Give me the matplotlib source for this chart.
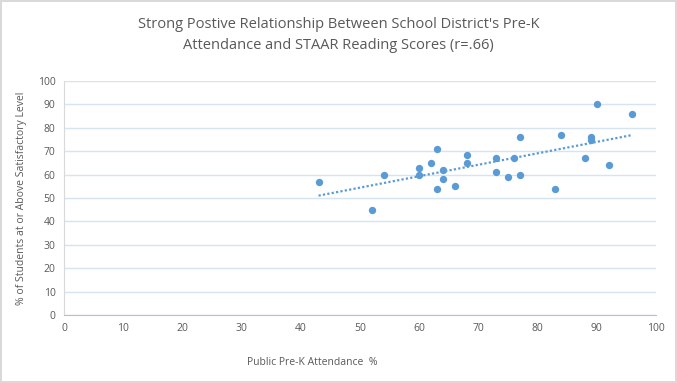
import numpy as np
import matplotlib.pyplot as plt

attendance = [43, 52, 54, 60, 60, 62, 63, 63, 64, 64, 66, 68, 68, 73, 73, 75,
              76, 77, 77, 83, 84, 88, 89, 89, 90, 92, 96]
reading = [57, 45, 60, 63, 60, 65, 71, 54, 62, 58, 55, 68.5, 65, 67, 61, 59,
           67, 76, 60, 54, 77, 67, 76, 75, 90, 64, 86]

plt.rcParams['font.family'] = ['Open Sans', 'DejaVu Sans']
txt = '#595959'
dot = '#5B9BD5'

fig = plt.figure(figsize=(6.77, 3.83), dpi=100)
fig.patch.set_edgecolor('#D9D9D9')
fig.patch.set_linewidth(1.5)
ax = fig.add_axes([0.0945, 0.1775, 0.8745, 0.611])

ax.scatter(attendance, reading, s=28, color=dot, zorder=3, linewidths=0)

# linear trendline
m, b = np.polyfit(attendance, reading, 1)
xs = np.array([min(attendance), max(attendance)])
ax.plot(xs, m * xs + b, linestyle=(0, (1, 1)), color=dot, lw=1.6, zorder=2)

ax.set_xlim(0, 100)
ax.set_ylim(0, 100)
ax.set_xticks(range(0, 101, 10))
ax.set_yticks(range(0, 101, 10))
ax.grid(axis='y', color='#D6E4F2', lw=1)
ax.set_axisbelow(True)
for s in ['top', 'right']:
    ax.spines[s].set_visible(False)
ax.spines['left'].set_color('#D9D9D9')
ax.spines['bottom'].set_color('#BFBFBF')
ax.tick_params(length=0, labelsize=7.5, colors=txt, pad=6)

ax.set_xlabel('Public Pre-K Attendance  %', fontsize=7.5, color=txt, va='center')
ax.xaxis.set_label_coords(0.42, -0.205)
ax.set_ylabel('% of Students at or Above Satisfactory Level', fontsize=7.5,
              color=txt, labelpad=8)
fig.text(0.5, 0.955, "Strong Postive Relationship Between School District's Pre-K\n"
         "Attendance and STAAR Reading Scores (r=.66)", ha='center', va='top',
         fontsize=10.5, color=txt, linespacing=1.5)

fig.savefig('out.png', dpi=100, edgecolor=fig.get_edgecolor())
